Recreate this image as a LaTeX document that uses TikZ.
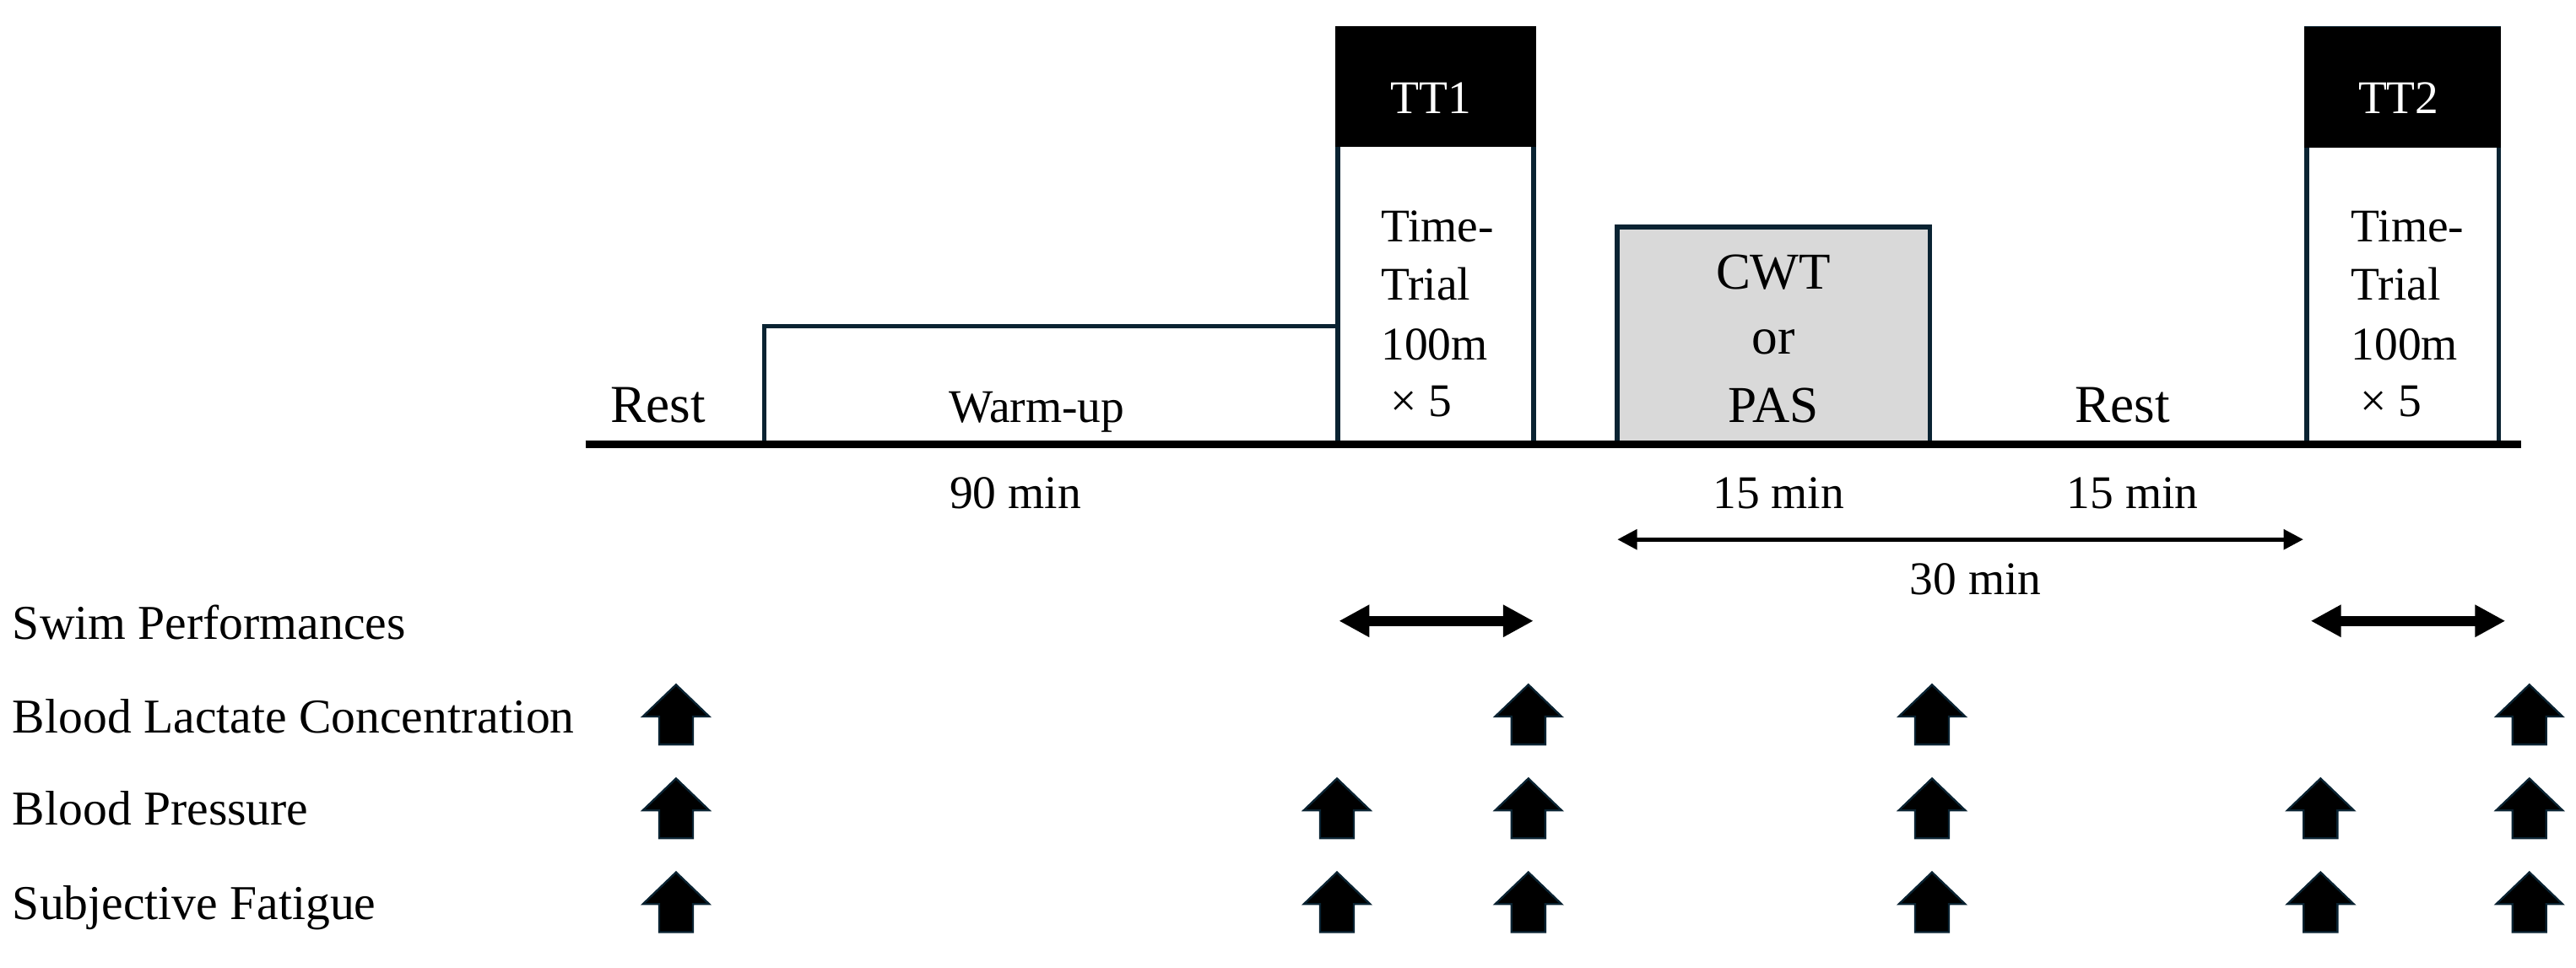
\documentclass[tikz,border=0pt]{standalone}
\usepackage{fontspec}
\setmainfont{Liberation Serif}
\usetikzlibrary{arrows.meta}
\definecolor{navy}{RGB}{10,35,50}
\definecolor{boxgray}{RGB}{217,217,217}
\newcommand{\fsa}{\fontsize{28.5pt}{34pt}\selectfont}
\newcommand{\fsb}{\fontsize{32.5pt}{38pt}\selectfont}
\newcommand{\fsc}{\fontsize{31.5pt}{38pt}\selectfont}
\newcommand{\fsd}{\fontsize{29.6pt}{35pt}\selectfont}
\begin{document}
\begin{tikzpicture}[x=1pt,y=-1pt,
  lbl/.style={inner sep=0pt, anchor=base west, font=\fsa},
  rowlbl/.style={inner sep=0pt, anchor=base west, font=\fsd},
  ctr/.style={inner sep=0pt, anchor=base, font=\fsa},
  ctrb/.style={inner sep=0pt, anchor=base, font=\fsb},
  ctrc/.style={inner sep=0pt, anchor=base, font=\fsc},
  phasebox/.style={draw=navy, line width=2.8pt},
  upmark/.pic={\filldraw[draw=navy, fill=black, line width=1.2pt]
     (0,0.6) -- (20.2,20) -- (10.3,20) -- (10.3,37) -- (-10.3,37) -- (-10.3,20) -- (-20.2,20) -- cycle;},
  perfspan/.style={line width=6pt, {Triangle[length=18.5pt,width=18.5pt]}-{Triangle[length=18.5pt,width=18.5pt]}},
  durarrow/.style={line width=2.5pt, {Triangle[length=12pt,width=12pt]}-{Triangle[length=12pt,width=12pt]}}
]
\useasboundingbox (0,0) rectangle (1568,589);

% phase boxes
\draw[phasebox, fill=white] (465.3,270.7) rectangle (814.4,198.5);
\draw[phasebox, fill=white] (814.4,270.7) rectangle (933.6,17.4);
\fill[black] (813,16) rectangle (935,89.5);
\draw[phasebox, fill=boxgray] (984.3,270.7) rectangle (1174.6,138.2);
\draw[phasebox, fill=white] (1404.2,270.7) rectangle (1521,17.4);
\fill[black] (1402.8,16.5) rectangle (1522.4,90);

% time line
\coordinate (tl0) at (356.4,270.7);
\coordinate (tl1) at (1534.7,270.7);
\draw[line width=4.6pt] (tl0) -- (tl1);

% timeline texts
\node[ctrb] (rest1) at (400.4,257) {Rest};
\node[ctr] (warm) at (631,257) {Warm-up};
\node[ctr, text=white] (tt1) at (871,69) {TT1};
\node[lbl] (tt1a) at (840.5,147.3) {Time-};
\node[lbl] (tt1b) at (840.5,182.5) {Trial};
\node[lbl] (tt1c) at (840.5,219) {100m};
\node[lbl] (tt1d) at (846,253.4) {× 5};
\node[ctrc] (cwt) at (1079.5,176) {CWT};
\node[ctrc] (cor) at (1079.5,215.6) {or};
\node[ctrc] (pas) at (1079.5,257) {PAS};
\node[ctrb] (rest2) at (1292,257) {Rest};
\node[ctr, text=white] (tt2) at (1460,69) {TT2};
\node[lbl] (tt2a) at (1431,147.3) {Time-};
\node[lbl] (tt2b) at (1431,182.5) {Trial};
\node[lbl] (tt2c) at (1431,219) {100m};
\node[lbl] (tt2d) at (1436.5,253.4) {× 5};

% durations
\node[ctr] (d90) at (618,309.6) {90 min};
\node[ctr] (d15a) at (1082.6,309.6) {15 min};
\node[ctr] (d15b) at (1298,309.6) {15 min};
\coordinate (a30l) at (984.5,328.4);
\coordinate (a30r) at (1402,328.4);
\draw[durarrow] (a30l) -- (a30r);
\node[ctr] (d30) at (1202.5,361.8) {30 min};

% measurement labels
\node[rowlbl] (swim) at (7.5,389) {Swim Performances};
\node[rowlbl] (lact) at (7.5,446) {Blood Lactate Concentration};
\node[rowlbl] (bp) at (7.5,502.3) {Blood Pressure};
\node[rowlbl] (fat) at (7.5,559.5) {Subjective Fatigue};

% swim performance spans
\coordinate (sp1l) at (815,378);
\coordinate (sp1r) at (933.4,378);
\coordinate (sp2l) at (1406.5,378);
\coordinate (sp2r) at (1525,378);
\draw[perfspan] (sp1l) -- (sp1r);
\draw[perfspan] (sp2l) -- (sp2r);

% measurement arrows
\foreach \x/\n in {411.5/1,930.3/3,1176/4,1539.6/6}
  \pic (bl\n) at (\x,416.2) {upmark};
\foreach \x/\n in {411.5/1,813.8/2,930.3/3,1176/4,1412.5/5,1539.6/6}{
  \pic (bp\n) at (\x,473.3) {upmark};
  \pic (sf\n) at (\x,530.4) {upmark};
}
\end{tikzpicture}
\end{document}
